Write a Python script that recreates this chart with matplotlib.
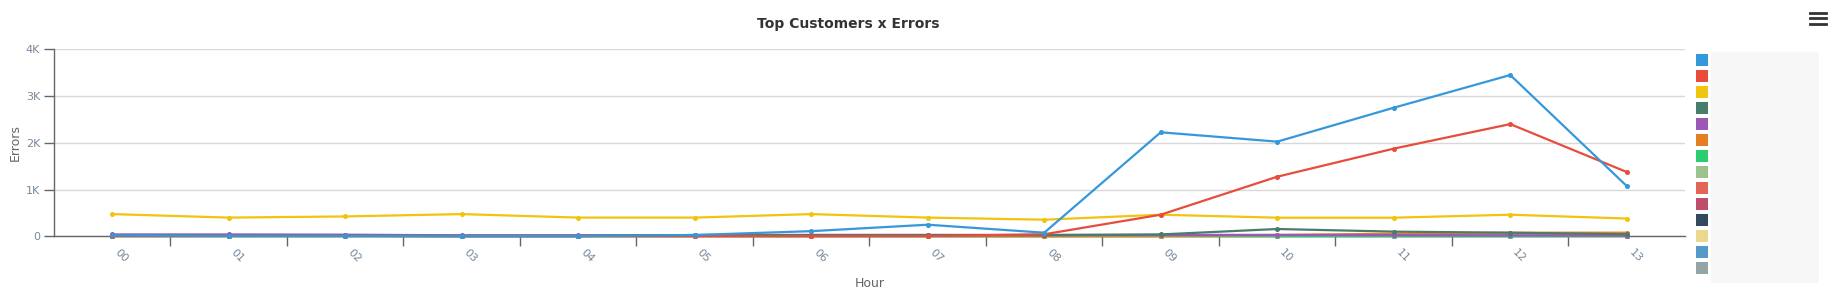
import matplotlib
matplotlib.use("Agg")
import matplotlib.pyplot as plt
from matplotlib.patches import Rectangle, FancyBboxPatch
from matplotlib.lines import Line2D
import matplotlib.transforms as mtransforms

W, H = 1834, 295
DPI = 100

hours = ["00", "01", "02", "03", "04", "05", "06", "07", "08", "09", "10", "11", "12", "13"]

colors = ["#3498db", "#e74c3c", "#f1c40f", "#487d6b", "#9b59b6", "#e67e22", "#2ecc71",
          "#9dc28c", "#e26656", "#bd4f6b", "#34495e", "#ead88f", "#5499c7", "#95a5a6"]

s_blue = [20, 10, 10, 5, 5, 28, 110, 248, 77, 2225, 2025, 2750, 3450, 1075]
s_red = [10, 10, 10, 5, 5, 5, 5, 5, 43, 462, 1275, 1875, 2400, 1375]
s_yellow = [475, 400, 425, 475, 400, 400, 475, 400, 355, 462, 398, 398, 462, 380]
s_dkgreen = [10, 10, 10, 5, 5, 28, 25, 25, 25, 40, 156, 100, 77, 43]
s_purple = [40, 40, 35, 20, 20, 25, 30, 30, 30, 30, 30, 25, 20, 15]
s_orange = [5, 5, 5, 5, 5, 5, 5, 5, 5, 10, 28, 56, 77, 77]
s_green = [2, 2, 2, 2, 2, 2, 2, 2, 2, 2, 2, 2, 2, 2]
s_ltgreen = [3, 3, 3, 3, 3, 3, 3, 3, 3, 3, 3, 3, 3, 3]
s_coral = [15, 15, 15, 10, 10, 10, 10, 10, 10, 10, 10, 10, 10, 10]
s_rasp = [20, 20, 20, 10, 10, 10, 15, 15, 15, 15, 15, 10, 10, 10]
s_navy = [2, 2, 2, 2, 2, 2, 2, 2, 2, 2, 2, 2, 2, 2]
s_ltyellow = [4, 4, 4, 4, 4, 4, 4, 4, 4, 4, 4, 4, 4, 4]
s_steel = [1, 1, 1, 1, 1, 1, 1, 1, 1, 1, 1, 1, 1, 1]
s_gray = [0, 0, 0, 0, 0, 0, 0, 0, 0, 0, 0, 0, 0, 0]

series = [s_blue, s_red, s_yellow, s_dkgreen, s_purple, s_orange, s_green,
          s_ltgreen, s_coral, s_rasp, s_navy, s_ltyellow, s_steel, s_gray]

yticks = [0, 1000, 2000, 3000, 4000]
ytick_labels = ["0", "1K", "2K", "3K", "4K"]

fig = plt.figure(figsize=(W / DPI, H / DPI), dpi=DPI)
fig.patch.set_facecolor("white")

left_px, right_px, top_px, bottom_px = 54, 1685, 49.3, 236.3
ax = fig.add_axes([left_px / W, 1 - bottom_px / H, (right_px - left_px) / W, (bottom_px - top_px) / H])

x = list(range(len(hours)))
for i in reversed(range(len(series))):
    ax.plot(x, series[i], color=colors[i], lw=1.6, marker="o", markersize=2.6,
            solid_joinstyle="round", zorder=3 + (len(series) - i) * 0.01, clip_on=False)

ax.set_xlim(-0.5, len(hours) - 0.5)
ax.set_ylim(0, 4000)
ax.set_yticks(yticks)
ax.set_yticklabels(ytick_labels)
ax.grid(axis="y", color="#d8d8d8", lw=1)
ax.set_axisbelow(True)

for s in ["top", "right"]:
    ax.spines[s].set_visible(False)
ax.spines["left"].set_color("#666666")
ax.spines["bottom"].set_color("#666666")
ax.spines["left"].set_linewidth(1)
ax.spines["bottom"].set_linewidth(1)

ax.tick_params(axis="y", length=7, width=1, color="#666666", labelcolor="#778899",
               labelsize=8, pad=3)

ax.set_xticks(x)
ax.set_xticklabels(hours, rotation=-45, ha="center", va="top")
ax.set_xticks([i + 0.5 for i in range(len(hours) - 1)], minor=True)
ax.tick_params(axis="x", which="major", length=0, labelcolor="#778899", labelsize=8, pad=8)
ax.tick_params(axis="x", which="minor", length=7, width=1, color="#666666")
offset = mtransforms.ScaledTranslation(9 / DPI, 0, fig.dpi_scale_trans)
for lbl in ax.get_xticklabels():
    lbl.set_transform(lbl.get_transform() + offset)

ax.set_xlabel("Hour", color="#666666", fontsize=9)
ax.xaxis.set_label_coords(0.5, -(277 - bottom_px) / (bottom_px - top_px))
ax.set_ylabel("Errors", color="#666666", fontsize=9)
ax.yaxis.set_label_coords((22 - left_px) / (right_px - left_px), 0.5)

fig.text(848 / W, 1 - 24 / H, "Top Customers x Errors", ha="center", va="center",
         fontsize=10, fontweight="bold", color="#333333")

# hamburger menu
for yy in [13, 18.3, 23.6]:
    fig.add_artist(Line2D([1810 / W, 1826 / W], [1 - yy / H, 1 - yy / H],
                          color="#333333", lw=2.0, transform=fig.transFigure))

# legend (labels redacted/blurred in reference)
fig.add_artist(FancyBboxPatch((1711 / W, 1 - 283 / H), 108 / W, 231 / H,
                              boxstyle="round,pad=0.0", facecolor="#f7f7f7",
                              edgecolor="none", transform=fig.transFigure))
for i, c in enumerate(colors):
    yc = 60 + 16 * i
    fig.add_artist(Rectangle((1696 / W, 1 - (yc + 6) / H), 12 / W, 12 / H,
                             facecolor=c, edgecolor="none", transform=fig.transFigure))

fig.savefig("out.png", dpi=DPI, facecolor="white")
